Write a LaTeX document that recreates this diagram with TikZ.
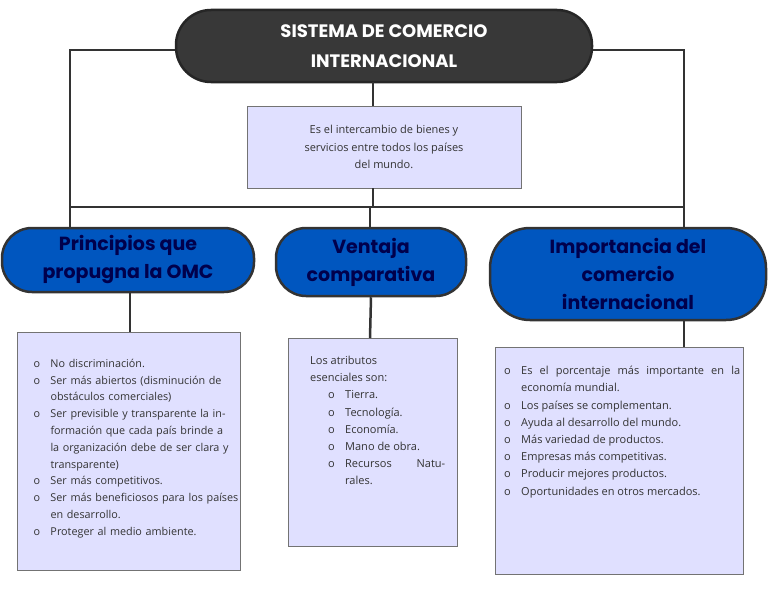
\documentclass[tikz,border=0pt]{standalone}
\usepackage{fontspec}
\setmainfont{Open Sans}
\newfontfamily\headfont{Poppins}
\tikzset{
 pill/.style={rounded corners=30pt,draw=black!80,line width=2.5pt,fill=blue!45!cyan!60!black!85,text=blue!30!black,font=\headfont\bfseries\fontsize{19}{28}\selectfont,align=center},
 infobox/.style={draw=black!55,line width=1pt,fill=blue!12!white,text=black!80,font=\fontsize{11}{17.2}\selectfont},
 conn/.style={line width=2.5pt,draw=black!80}
}
\newcommand\itm[1]{\par\noindent\hangindent=17pt\hangafter=1\makebox[17pt][l]{o}#1}
\begin{document}
\begin{tikzpicture}[x=1pt,y=-1pt]
\useasboundingbox (0,0) rectangle (768,594);
\fill[white] (0,0) rectangle (768,594);
\coordinate (tl) at (70,50); \coordinate (tr) at (684,50);
\coordinate (bl) at (70,207); \coordinate (br) at (684,207);
\draw[conn] (bl) -- (tl) -- (tr) -- (br);
\draw[conn] (bl) -- (br);
\node[pill,fill=black!78,draw=black!85,text=white,rounded corners=35pt,font=\headfont\bfseries\fontsize{18}{30}\selectfont,minimum width=416pt,minimum height=72pt] (title) at (384,46) {SISTEMA DE COMERCIO\\INTERNACIONAL};
\node[infobox,minimum width=274pt,minimum height=82pt,align=center] (def) at (384,147) {Es el intercambio de bienes y\\servicios entre todos los países\\del mundo.};
\draw[conn] (373,82) -- (373,106);
\draw[conn] (373,188) -- (373,207);
\node[pill,fill=blue!55!cyan!75!black,minimum width=252pt,minimum height=64pt] (p1) at (128,260) {Principios que\\propugna la OMC};
\node[pill,fill=blue!55!cyan!75!black,minimum width=190pt,minimum height=68pt] (p2) at (371,262) {Ventaja\\comparativa};
\node[pill,fill=blue!55!cyan!75!black,rounded corners=40pt,minimum width=276pt,minimum height=92pt] (p3) at (628,274) {Importancia del\\comercio\\internacional};
\draw[conn] (70,207) -- (70,228);
\draw[conn] (370,207) -- (370,228);
\draw[conn] (684,207) -- (684,228);
\node[infobox,anchor=north west,minimum width=223pt,minimum height=238pt,text width=207pt,inner sep=0pt,align=left] (b1) at (17,332) {\vspace{6pt}\leavevmode\hspace*{8pt}\begin{minipage}[t]{205pt}\fontsize{10.8}{16.8}\selectfont
\itm{No discriminación.}
\itm{Ser más abiertos (disminución de obstáculos comerciales)}
\itm{Ser previsible y transparente la información que cada país brinde a la organización debe de ser clara y transparente)}
\itm{Ser más competitivos.}
\itm{Ser más beneficiosos para los países en desarrollo.}
\itm{Proteger al medio ambiente.}\end{minipage}};
\node[infobox,anchor=north west,minimum width=169pt,minimum height=208pt,inner sep=0pt] (b2) at (288,338) {};
\node[anchor=north west,text=black!80,font=\fontsize{11}{17.2}\selectfont,align=left,inner sep=0pt] at (310,356) {\begin{minipage}[t]{135pt}
Los atributos\\esenciales son:\par\leftskip=18pt
\itm{Tierra.}
\itm{Tecnología.}
\itm{Economía.}
\itm{Mano de obra.}
\itm{Recursos Naturales.}\end{minipage}};
\node[infobox,anchor=north west,minimum width=248pt,minimum height=227pt,inner sep=0pt] (b3) at (495,347) {};
\node[anchor=north west,text=black!80,font=\fontsize{11}{17.2}\selectfont,inner sep=0pt] at (504,366) {\begin{minipage}[t]{236pt}
\itm{Es el porcentaje más importante en la economía mundial.}
\itm{Los países se complementan.}
\itm{Ayuda al desarrollo del mundo.}
\itm{Más variedad de productos.}
\itm{Empresas más competitivas.}
\itm{Producir mejores productos.}
\itm{Oportunidades en otros mercados.}\end{minipage}};
\draw[conn] (p1.south -| 130,0) -- (130,332);
\draw[conn] (p2.south) -- (370,338);
\draw[conn] (684,320) -- (684,347);
\end{tikzpicture}
\end{document}
